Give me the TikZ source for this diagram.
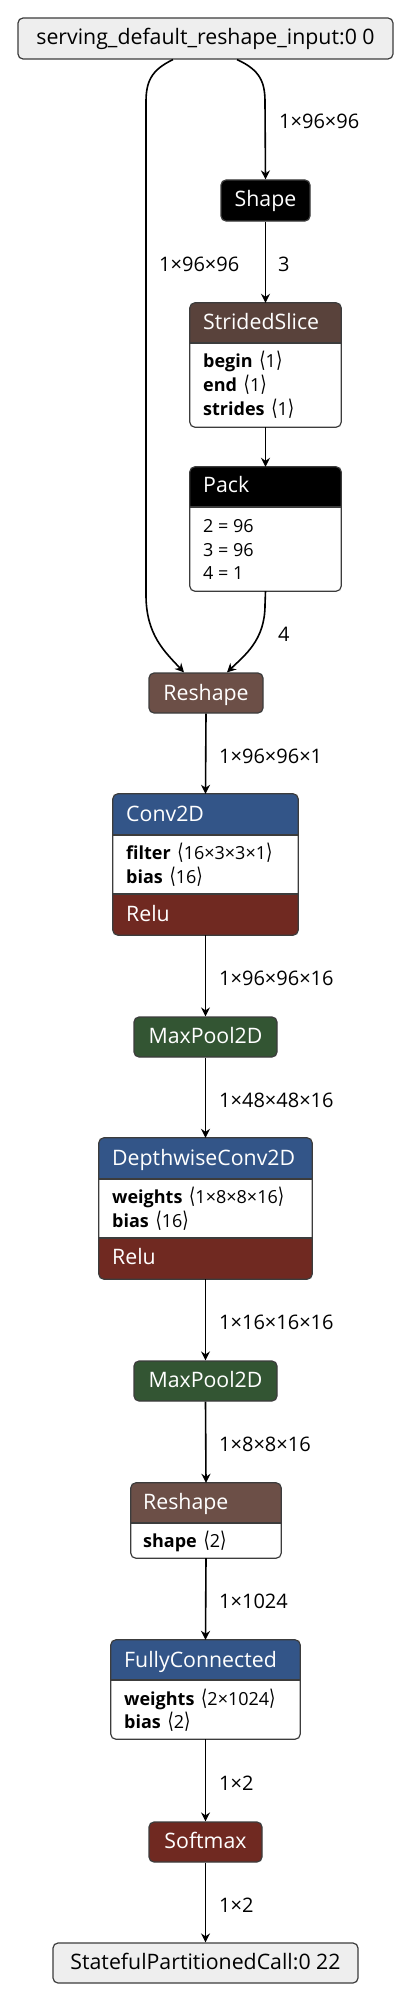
\documentclass[tikz,border=0pt]{standalone}
\usepackage{fontspec}
\usepackage{graphicx}
\setmainfont{Open Sans}
\newfontfamily\dv{DejaVu Sans}
\usetikzlibrary{arrows.meta}
\definecolor{layer}{RGB}{51,85,136}
\definecolor{act}{RGB}{112,41,33}
\definecolor{pool}{RGB}{51,85,51}
\definecolor{shp}{RGB}{108,79,71}
\definecolor{tns}{RGB}{89,66,59}
\definecolor{bord}{RGB}{60,60,60}
\definecolor{io}{RGB}{238,238,238}
\newcommand\hfont{\fontsize{21.3}{24}\selectfont}
\newcommand\afont{\fontsize{18}{24}\selectfont}
\newcommand\efont{\fontsize{20}{22}\selectfont}
\newcommand\ang[1]{\hspace{2pt}\raisebox{-0.5pt}{\scalebox{0.9}[1.2]{\dv\char"27E8}}#1\raisebox{-0.5pt}{\scalebox{0.9}[1.2]{\dv\char"27E9}}}
\tikzset{
  boxn/.style={rectangle, rounded corners=5pt, inner sep=0pt, fill=white},
  snode/.style={rectangle, rounded corners=5pt, inner sep=0pt, draw=bord, line width=1.2pt},
  outline/.style={draw=bord, line width=1.2pt, rounded corners=5pt},
  sep/.style={draw=bord, line width=1.2pt},
  htext/.style={anchor=base west, inner sep=0pt, text=white, font=\hfont},
  ctext/.style={anchor=base, inner sep=0pt, text=white, font=\hfont},
  atext/.style={anchor=base west, inner sep=0pt, font=\afont},
  elabel/.style={anchor=base west, inner sep=0pt, font=\efont},
  edge/.style={draw=black, line width=1.6pt, -{Stealth[length=9pt, width=9pt, inset=3pt]}},
}
\begin{document}
\begin{tikzpicture}[x=1pt,y=-1pt]
\useasboundingbox (0,0) rectangle (412,2004);

% ---- simple nodes
\node[snode, fill=io, minimum width=375pt, minimum height=41pt] (in) at (205.5,38.5) {};
\node[ctext, text=black] (intxt) at (205.5,45) {serving\_default\_reshape\_input:0 0};

\node[snode, fill=black, minimum width=89pt, minimum height=41pt] (shape) at (265.5,200.5) {};
\node[ctext] (shapetxt) at (265.5,207) {Shape};

\node[snode, fill=shp, minimum width=114pt, minimum height=40pt] (rs1) at (206,693) {};
\node[ctext] (rs1txt) at (206,700) {Reshape};

\node[snode, fill=pool, minimum width=143pt, minimum height=40pt] (mp1) at (205.5,1037) {};
\node[ctext] (mp1txt) at (205.5,1043) {MaxPool2D};

\node[snode, fill=pool, minimum width=143pt, minimum height=40pt] (mp2) at (205.5,1381) {};
\node[ctext] (mp2txt) at (205.5,1387) {MaxPool2D};

\node[snode, fill=act, minimum width=113pt, minimum height=40pt] (sm) at (205.5,1842) {};
\node[ctext] (smtxt) at (205.5,1848) {Softmax};

\node[snode, fill=io, minimum width=305pt, minimum height=40pt] (out) at (205.5,1963) {};
\node[ctext, text=black] (outtxt) at (205.5,1969) {StatefulPartitionedCall:0 22};

% ---- StridedSlice
\node[boxn, minimum width=151pt, minimum height=124pt] (ss) at (265.5,365) {};
\begin{scope}
  \clip[rounded corners=5pt] (ss.north west) rectangle (ss.south east);
  \fill[tns] (ss.north west) rectangle (341,343);
\end{scope}
\draw[sep] (190,343) -- (341,343);
\draw[outline] (ss.north west) rectangle (ss.south east);
\node[htext] (sst) at (203,329) {StridedSlice};
\node[atext] (ssa1) at (203,367) {\textbf{begin} \ang{1}};
\node[atext] (ssa2) at (203,391) {\textbf{end} \ang{1}};
\node[atext] (ssa3) at (203,415) {\textbf{strides} \ang{1}};

% ---- Pack
\node[boxn, minimum width=151pt, minimum height=124pt] (pack) at (265.5,529) {};
\begin{scope}
  \clip[rounded corners=5pt] (pack.north west) rectangle (pack.south east);
  \fill[black] (pack.north west) rectangle (341,507);
\end{scope}
\draw[sep] (190,507) -- (341,507);
\draw[outline] (pack.north west) rectangle (pack.south east);
\node[htext] (packt) at (203,492) {Pack};
\node[atext] (pa1) at (203,532) {2 = 96};
\node[atext] (pa2) at (203,556) {3 = 96};
\node[atext] (pa3) at (203,579) {4 = 1};

% ---- Conv2D
\node[boxn, minimum width=185pt, minimum height=141pt] (conv) at (205.5,864.5) {};
\begin{scope}
  \clip[rounded corners=5pt] (conv.north west) rectangle (conv.south east);
  \fill[layer] (conv.north west) rectangle (298,835);
  \fill[act] (113,894) rectangle (conv.south east);
\end{scope}
\draw[sep] (113,835) -- (298,835);
\draw[sep] (113,894) -- (298,894);
\draw[outline] (conv.north west) rectangle (conv.south east);
\node[htext] (convt) at (126,821) {Conv2D};
\node[atext] (ca1) at (126,859) {\textbf{filter} \ang{16×3×3×1}};
\node[atext] (ca2) at (126,883) {\textbf{bias} \ang{16}};
\node[htext] (cr) at (126,921) {Relu};

% ---- DepthwiseConv2D
\node[boxn, minimum width=213pt, minimum height=141pt] (dw) at (205.5,1208.5) {};
\begin{scope}
  \clip[rounded corners=5pt] (dw.north west) rectangle (dw.south east);
  \fill[layer] (dw.north west) rectangle (312,1179);
  \fill[act] (99,1238) rectangle (dw.south east);
\end{scope}
\draw[sep] (99,1179) -- (312,1179);
\draw[sep] (99,1238) -- (312,1238);
\draw[outline] (dw.north west) rectangle (dw.south east);
\node[htext] (dwt) at (112,1165) {DepthwiseConv2D};
\node[atext] (da1) at (112,1203) {\textbf{weights} \ang{1×8×8×16}};
\node[atext] (da2) at (112,1227) {\textbf{bias} \ang{16}};
\node[htext] (dr) at (112,1264) {Relu};

% ---- Reshape 2
\node[boxn, minimum width=150pt, minimum height=75pt] (rs2) at (206,1520.5) {};
\begin{scope}
  \clip[rounded corners=5pt] (rs2.north west) rectangle (rs2.south east);
  \fill[shp] (rs2.north west) rectangle (281,1523);
\end{scope}
\draw[sep] (131,1523) -- (281,1523);
\draw[outline] (rs2.north west) rectangle (rs2.south east);
\node[htext] (rs2t) at (143,1509) {Reshape};
\node[atext] (ra1) at (143,1547) {\textbf{shape} \ang{2}};

% ---- FullyConnected
\node[boxn, minimum width=189pt, minimum height=99pt] (fc) at (205.5,1689.5) {};
\begin{scope}
  \clip[rounded corners=5pt] (fc.north west) rectangle (fc.south east);
  \fill[layer] (fc.north west) rectangle (300,1680);
\end{scope}
\draw[sep] (111,1680) -- (300,1680);
\draw[outline] (fc.north west) rectangle (fc.south east);
\node[htext] (fct) at (124,1667) {FullyConnected};
\node[atext] (fa1) at (124,1705) {\textbf{weights} \ang{2×1024}};
\node[atext] (fa2) at (124,1728) {\textbf{bias} \ang{2}};

% ---- edges
\draw[edge] ([xshift=31.5pt]in.south) .. controls (260,70) and (265,82) .. (265,102) -- (shape.north);
\node[elabel] (l1) at (279,129) {1×96×96};
\draw[edge] (shape.south) -- (ss.north);
\node[elabel] (l2) at (278,271) {3};
\draw[edge] (ss.south) -- (pack.north);
\draw[edge] (pack.south) -- (265,605) .. controls (265,640) and (245,655) .. ([xshift=21pt]rs1.north);
\node[elabel] (l3) at (278,641) {4};
\draw[edge] ([xshift=-32.5pt]in.south) .. controls (151,70) and (146,82) .. (146,102) -- (146,595) .. controls (146,635) and (165,652) .. ([xshift=-22pt]rs1.north);
\node[elabel] (l4) at (159,271) {1×96×96};

\draw[edge] (rs1.south) -- (conv.north);
\node[elabel] (l5) at (219,763) {1×96×96×1};
\draw[edge] (conv.south) -- (mp1.north);
\node[elabel] (l6) at (219,985) {1×96×96×16};
\draw[edge] (mp1.south) -- (dw.north);
\node[elabel] (l7) at (219,1107) {1×48×48×16};
\draw[edge] (dw.south) -- (mp2.north);
\node[elabel] (l8) at (219,1329) {1×16×16×16};
\draw[edge] (mp2.south) -- (rs2.north);
\node[elabel] (l9) at (219,1451) {1×8×8×16};
\draw[edge] (rs2.south) -- (fc.north);
\node[elabel] (l10) at (219,1608) {1×1024};
\draw[edge] (fc.south) -- (sm.north);
\node[elabel] (l11) at (219,1790) {1×2};
\draw[edge] (sm.south) -- (out.north);
\node[elabel] (l12) at (219,1912) {1×2};
\end{tikzpicture}
\end{document}
